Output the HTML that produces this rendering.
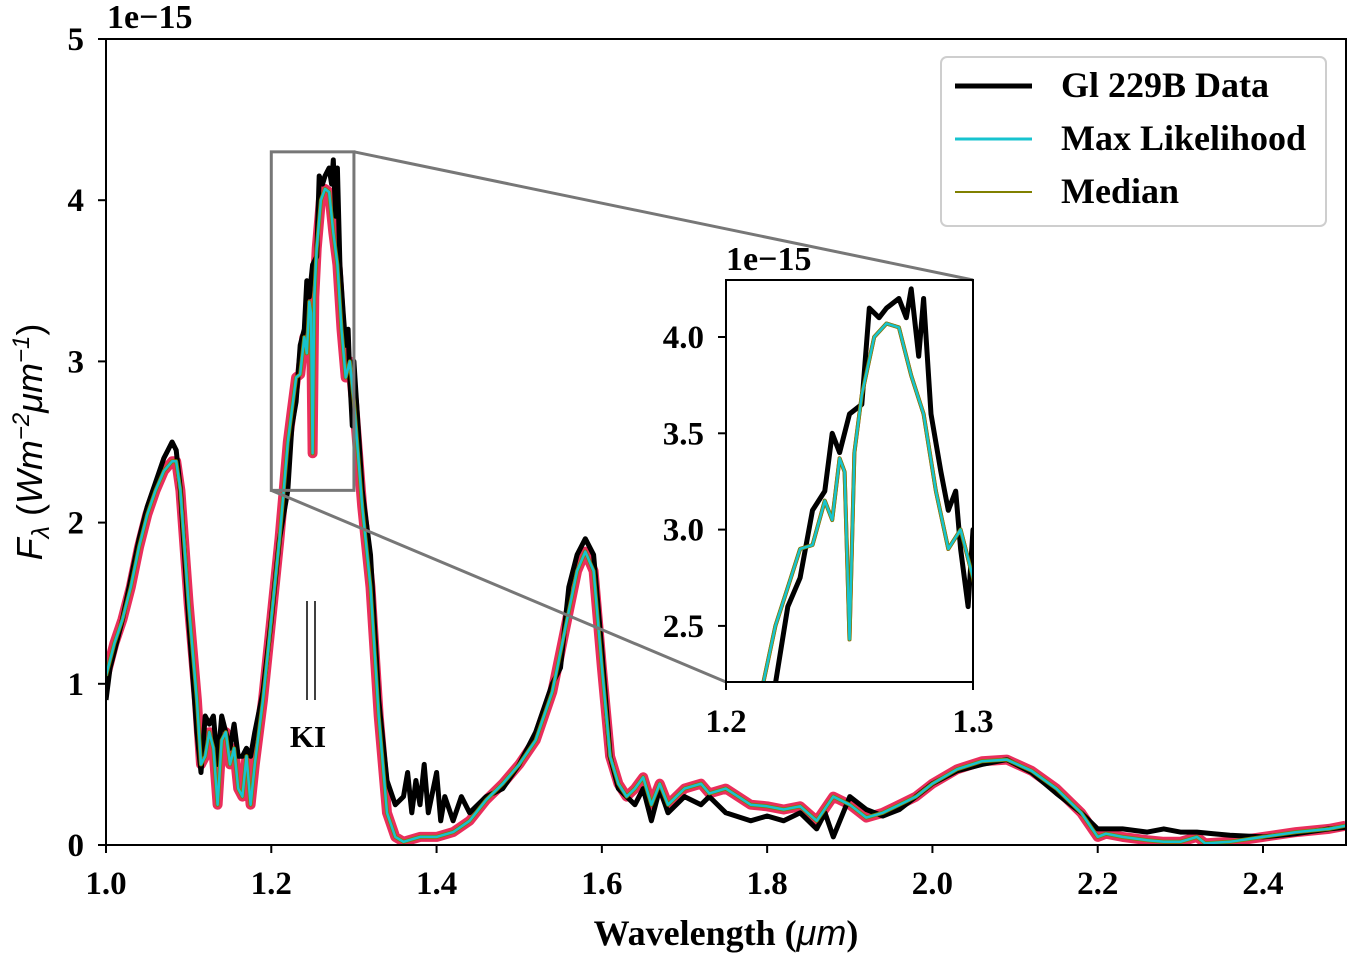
<!DOCTYPE html>
<html><head><meta charset="utf-8"><style>
html,body{margin:0;background:#fff;overflow:hidden;width:1350px;height:956px}
svg{display:block}
.t{font-family:"Liberation Serif",serif;font-weight:bold;fill:#000}
</style></head><body>
<svg id="c" width="1350" height="956">
<defs>
<clipPath id="mainclip"><rect x="106" y="39" width="1240" height="806"/></clipPath>
<clipPath id="insetclip"><rect x="726" y="280" width="247" height="402"/></clipPath>
</defs>
<g id="main" clip-path="url(#mainclip)"></g>
<g id="insetg" clip-path="url(#insetclip)"></g>
<g id="axes"></g>
</svg>
<script>
const modelX=[1.00,1.01,1.02,1.03,1.04,1.05,1.06,1.07,1.08,1.085,1.09,1.10,1.11,1.115,1.12,1.125,1.13,1.135,1.14,1.145,1.15,1.155,1.16,1.165,1.17,1.175,1.18,1.19,1.20,1.21,1.215,1.22,1.225,1.23,1.235,1.24,1.243,1.246,1.248,1.25,1.252,1.255,1.26,1.265,1.27,1.275,1.28,1.285,1.29,1.295,1.30,1.31,1.32,1.33,1.34,1.35,1.36,1.38,1.40,1.42,1.44,1.46,1.48,1.50,1.52,1.54,1.56,1.57,1.58,1.59,1.60,1.61,1.62,1.63,1.64,1.65,1.66,1.67,1.68,1.70,1.72,1.73,1.75,1.78,1.80,1.82,1.84,1.86,1.88,1.90,1.92,1.94,1.96,1.98,2.00,2.03,2.06,2.09,2.12,2.15,2.18,2.20,2.21,2.23,2.26,2.28,2.30,2.32,2.33,2.36,2.40,2.44,2.48,2.50];
const modelY=[1.05,1.25,1.4,1.6,1.85,2.05,2.2,2.32,2.38,2.38,2.2,1.5,0.9,0.5,0.55,0.7,0.6,0.25,0.65,0.7,0.5,0.6,0.35,0.3,0.55,0.25,0.5,0.9,1.4,1.9,2.2,2.5,2.7,2.9,2.92,3.15,3.05,3.37,3.3,2.43,3.4,3.7,4.0,4.07,4.05,3.8,3.6,3.2,2.9,3.0,2.75,2.1,1.6,0.8,0.2,0.05,0.02,0.05,0.05,0.08,0.15,0.28,0.38,0.5,0.65,0.95,1.45,1.7,1.82,1.7,1.1,0.55,0.38,0.3,0.35,0.42,0.25,0.38,0.25,0.35,0.38,0.32,0.35,0.25,0.24,0.22,0.24,0.15,0.3,0.25,0.17,0.2,0.25,0.3,0.38,0.47,0.52,0.53,0.46,0.35,0.2,0.05,0.07,0.05,0.03,0.02,0.02,0.05,0.01,0.02,0.05,0.08,0.1,0.12];
const dataX=[1.00,1.005,1.01,1.02,1.03,1.04,1.05,1.06,1.07,1.075,1.08,1.085,1.09,1.10,1.11,1.115,1.12,1.125,1.13,1.135,1.14,1.145,1.15,1.155,1.16,1.165,1.17,1.175,1.18,1.19,1.20,1.21,1.22,1.225,1.23,1.235,1.24,1.243,1.246,1.25,1.255,1.258,1.262,1.265,1.27,1.273,1.275,1.278,1.28,1.283,1.287,1.29,1.293,1.295,1.298,1.30,1.31,1.32,1.33,1.34,1.35,1.36,1.365,1.37,1.375,1.38,1.385,1.39,1.40,1.405,1.41,1.42,1.43,1.44,1.46,1.48,1.50,1.52,1.54,1.55,1.56,1.57,1.58,1.59,1.60,1.61,1.62,1.63,1.64,1.65,1.66,1.67,1.68,1.70,1.72,1.73,1.75,1.78,1.80,1.82,1.84,1.86,1.87,1.88,1.90,1.92,1.94,1.96,1.98,2.00,2.03,2.06,2.09,2.12,2.15,2.18,2.20,2.21,2.23,2.26,2.28,2.30,2.32,2.34,2.36,2.40,2.44,2.48,2.50];
const dataY=[0.9,1.1,1.2,1.4,1.65,1.9,2.1,2.25,2.4,2.45,2.5,2.45,2.2,1.4,0.7,0.45,0.8,0.75,0.8,0.5,0.8,0.7,0.6,0.75,0.55,0.55,0.6,0.55,0.7,0.95,1.4,1.9,2.2,2.6,2.75,3.1,3.2,3.5,3.4,3.6,3.65,4.15,4.1,4.15,4.2,4.1,4.25,3.9,4.2,3.6,3.3,3.1,3.2,2.9,2.6,3.0,2.2,1.8,0.9,0.4,0.25,0.3,0.45,0.2,0.4,0.25,0.5,0.2,0.45,0.15,0.3,0.15,0.3,0.2,0.3,0.35,0.5,0.7,1.0,1.1,1.6,1.8,1.9,1.8,1.2,0.55,0.35,0.3,0.25,0.35,0.15,0.35,0.2,0.3,0.25,0.3,0.2,0.15,0.18,0.15,0.2,0.1,0.2,0.05,0.3,0.22,0.18,0.22,0.3,0.38,0.46,0.5,0.53,0.45,0.32,0.2,0.1,0.1,0.1,0.08,0.1,0.08,0.08,0.07,0.06,0.05,0.07,0.1,0.11,0.12];
const xTicks=[1.0,1.2,1.4,1.6,1.8,2.0,2.2,2.4];
const yTicks=[0,1,2,3,4,5];
const insetXTicks=[1.2,1.3];
const insetYTicks=[2.5,3.0,3.5,4.0];

const NS="http://www.w3.org/2000/svg";
const X=v=>106+(v-1.0)*(1263-106)/1.4;
const Y=v=>845-v*161.2;
const IX=v=>726+(v-1.2)*2470;
const IY=v=>337-(v-4.0)*192.6;
function mk(tag,attrs,parent,text){const e=document.createElementNS(NS,tag);for(const k in attrs)e.setAttribute(k,attrs[k]);if(text!==undefined)e.textContent=text;parent.appendChild(e);return e;}
function pts(xs,ys,fx,fy){return xs.map((x,i)=>fx(x).toFixed(1)+","+fy(ys[i]).toFixed(1)).join(" ");}
const main=document.getElementById('main'),ins=document.getElementById('insetg'),ax=document.getElementById('axes');

function series(parent,fx,fy,scale){
  let e;
  e=mk('polyline',{points:pts(modelX,modelY,fx,fy),fill:'none',stroke:'#e8174a','stroke-width':10*scale,'stroke-linejoin':'round',opacity:0.9},parent);
  
  
  e=mk('polyline',{points:pts(dataX,dataY,fx,fy),fill:'none',stroke:'#000','stroke-width':5,'stroke-linejoin':'round'},parent);
  
  
  e=mk('polyline',{points:pts(modelX,modelY,fx,fy),fill:'none',stroke:'#808000','stroke-width':4,'stroke-linejoin':'round'},parent);
  
  
  e=mk('polyline',{points:pts(modelX,modelY,fx,fy),fill:'none',stroke:'#17c3cf','stroke-width':2.5,'stroke-linejoin':'round'},parent);
  
  
}
series(main,X,Y,1);
series(ins,IX,IY,0.4);

let e;
e=mk('rect',{x:106,y:39,width:1240,height:806,fill:'none',stroke:'#000','stroke-width':2},ax);


xTicks.forEach(v=>{
  mk('line',{x1:X(v),x2:X(v),y1:845,y2:853,stroke:'#000','stroke-width':2},ax);
  e=mk('text',{x:X(v),y:894,'text-anchor':'middle','font-size':33,class:'t'},ax,v.toFixed(1));
  
  
});
yTicks.forEach(v=>{
  mk('line',{x1:98,x2:106,y1:Y(v),y2:Y(v),stroke:'#000','stroke-width':2},ax);
  e=mk('text',{x:84,y:Y(v)+11,'text-anchor':'end','font-size':33,class:'t'},ax,String(v));
  
  
});
e=mk('text',{x:107,y:28,'font-size':34,class:'t'},ax,'1e\u221215');


e=mk('text',{x:726,y:945,'text-anchor':'middle','font-size':36,class:'t'},ax,'');


e.innerHTML='Wavelength (<tspan font-family="Liberation Sans" font-style="italic" font-weight="normal">μm</tspan>)';
e=mk('text',{transform:'translate(42,442) rotate(-90)','text-anchor':'middle','font-size':36,'font-family':'Liberation Sans, sans-serif','font-style':'italic'},ax,'');


e.innerHTML='F<tspan font-size="25" dy="7">λ</tspan><tspan dy="-7" font-style="normal"> (</tspan>Wm<tspan font-size="24" dy="-13">−2</tspan><tspan dy="13">μm</tspan><tspan font-size="24" dy="-13">−1</tspan><tspan dy="13" font-style="normal">)</tspan>';

mk('line',{x1:307,x2:307,y1:601,y2:700,stroke:'#000','stroke-width':1.5},ax);
mk('line',{x1:315,x2:315,y1:601,y2:700,stroke:'#000','stroke-width':1.5},ax);
e=mk('text',{x:308,y:747,'text-anchor':'middle','font-size':31,class:'t'},ax,'KI');



e=mk('rect',{x:X(1.2),y:Y(4.3),width:X(1.3)-X(1.2),height:Y(2.2)-Y(4.3),fill:'none',stroke:'#777','stroke-width':3},ax);


mk('line',{x1:X(1.3),y1:Y(4.3),x2:973,y2:280,stroke:'#777','stroke-width':3},ax);
mk('line',{x1:X(1.2),y1:Y(2.2),x2:726,y2:682,stroke:'#777','stroke-width':3},ax);

e=mk('rect',{x:726,y:280,width:247,height:402,fill:'none',stroke:'#000','stroke-width':2},ax);


insetXTicks.forEach(v=>{
  mk('line',{x1:IX(v),x2:IX(v),y1:682,y2:690,stroke:'#000','stroke-width':2},ax);
  e=mk('text',{x:IX(v),y:732,'text-anchor':'middle','font-size':33,class:'t'},ax,v.toFixed(1));
  
  
});
insetYTicks.forEach(v=>{
  mk('line',{x1:718,x2:726,y1:IY(v),y2:IY(v),stroke:'#000','stroke-width':2},ax);
  e=mk('text',{x:704,y:IY(v)+11,'text-anchor':'end','font-size':33,class:'t'},ax,v.toFixed(1));
  
  
});
e=mk('text',{x:726,y:270,'font-size':34,class:'t'},ax,'1e\u221215');



const lg=mk('g',{},ax);


mk('rect',{x:941,y:57,width:385,height:169,rx:6,fill:'#fff',stroke:'#ccc','stroke-width':2,opacity:0.95},lg);
const leg=[['Gl 229B Data','#000',5,'legend-entry-data'],['Max Likelihood','#17c3cf',3,'legend-entry-max-likelihood'],['Median','#808000',2,'legend-entry-median']];
leg.forEach((l,i)=>{
  const y=86+i*53;
  const g=mk('g',{},lg);
  
  
  mk('line',{x1:955,x2:1032,y1:y,y2:y,stroke:l[1],'stroke-width':l[2]},g);
  mk('text',{x:1061,y:y+11,'font-size':36,class:'t'},g,l[0]);
});
</script>
</body></html>
